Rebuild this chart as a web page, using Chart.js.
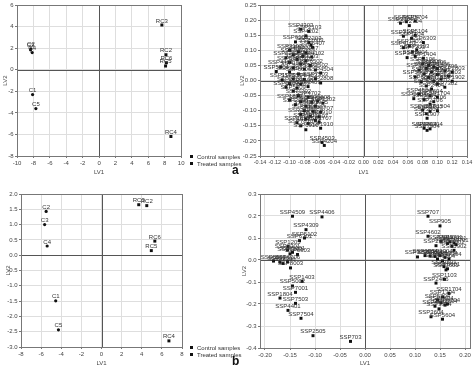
<!DOCTYPE html>
<html>
<head>
<meta charset="utf-8">
<script src="https://cdn.jsdelivr.net/npm/chart.js@4/dist/chart.umd.min.js"></script>
<style>
body { margin: 0; background: #fff; width: 474px; height: 373px; position: relative; overflow: hidden; font-family: "Liberation Sans", Arial, sans-serif; }
canvas { position: absolute; }
.leg { position: absolute; font-size: 6px; color: #333; line-height: 7px; white-space: nowrap; }
.leg i { display: inline-block; width: 3px; height: 3px; background: #111; margin-right: 4px; vertical-align: 1px; }
.tag { position: absolute; font-size: 12px; font-weight: bold; color: #111; }
</style>
</head>
<body>
<canvas id="aLeft" width="186" height="180" style="left:0;top:0"></canvas>
<canvas id="aRight" width="237" height="180" style="left:237px;top:0"></canvas>
<canvas id="bLeft" width="186" height="193" style="left:0;top:180px"></canvas>
<canvas id="bRight" width="237" height="193" style="left:237px;top:180px"></canvas>

<div class="leg" style="left:190px;top:154px"><i></i>Control samples<br><i></i>Treated samples</div>
<div class="leg" style="left:190px;top:345px"><i></i>Control samples<br><i></i>Treated samples</div>
<div class="tag" style="left:232px;top:163px">a</div>
<div class="tag" style="left:232px;top:354px">b</div>

<script>
// ---- panel a, samples ----
const aControl = [[-8.3, 1.95, 'C2'], [-8.35, 1.85, 'C3'], [-8.15, 1.6, 'C4'], [-8.1, -2.3, 'C1'], [-7.7, -3.6, 'C5']];
const aTreated = [[7.65, 4.15, 'RC3'], [8.15, 1.4, 'RC2'], [8.2, 0.65, 'RC6'], [8.1, 0.35, 'RC5'], [8.75, -6.2, 'RC4']];
const aLeftXTicks = [-10, -8, -6, -4, -2, 0, 2, 4, 6, 8, 10];
const aLeftYTicks = [-8, -6, -4, -2, 0, 2, 4, 6];

// ---- panel b, samples ----
const bControl = [[-5.5, 1.43, 'C2'], [-5.65, 1.0, 'C3'], [-5.4, 0.3, 'C4'], [-4.55, -1.49, 'C1'], [-4.28, -2.44, 'C5']];
const bTreated = [[3.7, 1.65, 'RC3'], [4.5, 1.62, 'RC2'], [5.3, 0.46, 'RC6'], [4.95, 0.15, 'RC5'], [6.7, -2.8, 'RC4']];
const bLeftXTicks = [-8, -6, -4, -2, 0, 2, 4, 6, 8];
const bLeftYTicks = [-3, -2.5, -2, -1.5, -1, -0.5, 0, 0.5, 1, 1.5, 2];

// ---- panel a, strains ----
const aStrainsNeg = [
    [-0.085, 0.17, 'SSP4303'], [-0.074, 0.163, 'SSP2103'], [-0.078, 0.148, 'SSP4202'], [-0.092, 0.128, 'SSP6102'],
    [-0.074, 0.126, 'SSP2203'], [-0.071, 0.118, 'SSP1603'], [-0.069, 0.11, 'SSP6407'], [-0.1, 0.1, 'SSP3102'],
    [-0.088, 0.095, 'SSP5302'], [-0.078, 0.092, 'SSP1207'], [-0.095, 0.085, 'SSP7402'], [-0.082, 0.08, 'SSP2502'],
    [-0.07, 0.078, 'SSP4102'], [-0.105, 0.075, 'SSP6202'], [-0.09, 0.07, 'SSP1302'], [-0.078, 0.065, 'SSP3203'],
    [-0.1, 0.06, 'SSP5107'], [-0.085, 0.055, 'SSP2402'], [-0.072, 0.05, 'SSP6502'], [-0.112, 0.045, 'SSP4403'],
    [-0.095, 0.042, 'SSP1502'], [-0.08, 0.038, 'SSP7102'], [-0.065, 0.035, 'SSP3502'], [-0.118, 0.03, 'SSP5204'],
    [-0.1, 0.028, 'SSP2304'], [-0.088, 0.022, 'SSP6604'], [-0.058, 0.025, 'SSP4504'], [-0.11, 0.002, 'SSP1102'],
    [-0.095, 0.005, 'SSP3304'], [-0.08, 0.004, 'SSP5403'], [-0.065, 0.006, 'SSP7503'], [-0.1, -0.01, 'SSP2708'],
    [-0.085, -0.012, 'SSP4608'], [-0.105, -0.022, 'SSP1409'], [-0.09, -0.025, 'SSP6309'], [-0.075, -0.02, 'SSP3409'],
    [-0.095, -0.035, 'SSP5509'], [-0.058, -0.008, 'SSP2808'], [-0.088, -0.05, 'SSP7302'], [-0.075, -0.055, 'SSP4702'],
    [-0.1, -0.065, 'SSP1805'], [-0.085, -0.07, 'SSP6705'], [-0.07, -0.072, 'SSP3808'], [-0.062, -0.068, 'SSP5608'],
    [-0.092, -0.08, 'SSP2908'], [-0.078, -0.085, 'SSP4809'], [-0.065, -0.085, 'SSP1905'], [-0.055, -0.075, 'SSP1302'],
    [-0.08, -0.1, 'SSP6807'], [-0.068, -0.102, 'SSP3907'], [-0.058, -0.105, 'SSP5707'], [-0.085, -0.112, 'SSP2607'],
    [-0.072, -0.118, 'SSP7907'], [-0.06, -0.12, 'SSP4910'], [-0.078, -0.128, 'SSP6910'], [-0.065, -0.132, 'SSP1907'],
    [-0.09, -0.14, 'SSP3810'], [-0.075, -0.142, 'SSP5910'], [-0.06, -0.138, 'SSP2707'], [-0.085, -0.15, 'SSP7810'],
    [-0.078, -0.163, 'SSP6910'], [-0.058, -0.158, 'SSP1910'], [-0.056, -0.205, 'SSP4503'], [-0.053, -0.215, 'SSP4204']
];
const aStrainsPos = [
    [0.05, 0.19, 'SSP3704'], [0.058, 0.195, 'SSP6704'], [0.07, 0.197, 'SSP5704'], [0.062, 0.182, 'SSP2704'],
    [0.054, 0.147, 'SSP7104'], [0.07, 0.15, 'SSP5104'], [0.065, 0.14, 'SSP1104'], [0.081, 0.126, 'SSP6303'],
    [0.054, 0.109, 'SSP4103'], [0.062, 0.115, 'SSP1403'], [0.072, 0.101, 'SSP2103'], [0.066, 0.095, 'SSP7203'],
    [0.059, 0.076, 'SSP3404'], [0.081, 0.074, 'SSP1404'], [0.07, 0.08, 'SSP5404'], [0.08, 0.055, 'SSP2106'],
    [0.088, 0.05, 'SSP4206'], [0.095, 0.045, 'SSP6306'], [0.1, 0.04, 'SSP1406'], [0.085, 0.04, 'SSP3506'],
    [0.075, 0.035, 'SSP5606'], [0.11, 0.032, 'SSP7706'], [0.12, 0.028, 'SSP2803'], [0.092, 0.028, 'SSP4903'],
    [0.082, 0.022, 'SSP6103'], [0.1, 0.02, 'SSP1203'], [0.115, 0.015, 'SSP3303'], [0.07, 0.012, 'SSP5402'],
    [0.088, 0.01, 'SSP7502'], [0.105, 0.005, 'SSP2602'], [0.095, -0.002, 'SSP4702'], [0.078, -0.004, 'SSP6802'],
    [0.12, -0.002, 'SSP1902'], [0.1, -0.012, 'SSP3102'], [0.085, -0.018, 'SSP5202'], [0.11, -0.022, 'SSP7302'],
    [0.092, -0.028, 'SSP2404'], [0.075, -0.045, 'SSP4504'], [0.09, -0.05, 'SSP6604'], [0.1, -0.055, 'SSP1704'],
    [0.068, -0.06, 'SSP3804'], [0.082, -0.063, 'SSP5904'], [0.095, -0.07, 'SSP7106'], [0.09, -0.078, 'SSP2706'],
    [0.08, -0.098, 'SSP4207'], [0.09, -0.102, 'SSP6307'], [0.1, -0.1, 'SSP1504'], [0.085, -0.11, 'SSP3607'],
    [0.086, -0.125, 'SSP1907'], [0.082, -0.158, 'SSP5804'], [0.086, -0.165, 'SSP7904'], [0.09, -0.16, 'SSP6304']
];
const aRightXTicks = [-0.14, -0.12, -0.10, -0.08, -0.06, -0.04, -0.02, 0, 0.02, 0.04, 0.06, 0.08, 0.10, 0.12, 0.14];
const aRightYTicks = [-0.25, -0.20, -0.15, -0.10, -0.05, 0, 0.05, 0.10, 0.15, 0.20, 0.25];

// ---- panel b, strains ----
const bStrains = [
    [-0.145, 0.199, 'SSP4509'], [-0.086, 0.196, 'SSP4406'], [-0.118, 0.138, 'SSP4309'], [-0.121, 0.1, 'SSP5102'],
    [-0.131, 0.088, 'SSP6301'], [-0.154, 0.061, 'SSP1205'], [-0.155, 0.045, 'SSP2301'], [-0.145, 0.035, 'SSP5201'],
    [-0.135, 0.025, 'SSP6303'], [-0.15, 0.028, 'SSP3203'], [-0.183, -0.005, 'SSP5501'], [-0.17, -0.01, 'SSP3201'],
    [-0.164, -0.016, 'SSP2206'], [-0.155, -0.008, 'SSP6206'], [-0.149, -0.036, 'SSP8003'], [-0.126, -0.097, 'SSP1403'],
    [-0.145, -0.118, 'SSP5002'], [-0.139, -0.147, 'SSP7001'], [-0.17, -0.173, 'SSP1804'], [-0.139, -0.197, 'SSP7503'],
    [-0.154, -0.229, 'SSP4401'], [-0.128, -0.265, 'SSP7504'], [-0.104, -0.344, 'SSP2505'], [-0.029, -0.37, 'SSP703'],
    [0.126, 0.199, 'SSP707'], [0.15, 0.155, 'SSP905'], [0.126, 0.108, 'SSP4602'], [0.152, 0.085, 'SSP7012'],
    [0.142, 0.065, 'SSP2002'], [0.17, 0.082, 'SSP1701'], [0.178, 0.078, 'SSP2701'], [0.165, 0.075, 'SSP6701'],
    [0.182, 0.07, 'SSP3701'], [0.174, 0.062, 'SSP4902'], [0.178, 0.044, 'SSP5902'], [0.105, 0.014, 'SSP3205'],
    [0.12, 0.02, 'SSP3204'], [0.13, 0.018, 'SSP1204'], [0.14, 0.016, 'SSP6204'], [0.15, 0.02, 'SSP2304'],
    [0.16, 0.012, 'SSP5304'], [0.168, 0.005, 'SSP7304'], [0.145, 0.004, 'SSP4304'], [0.155, -0.004, 'SSP1604'],
    [0.158, -0.03, 'SSP2601'], [0.165, -0.04, 'SSP6601'], [0.162, -0.045, 'SSP3601'], [0.159, -0.088, 'SSP1103'],
    [0.142, -0.105, 'SSP2406'], [0.168, -0.152, 'SSP1704'], [0.155, -0.168, 'SSP1304'], [0.145, -0.182, 'SSP5204'],
    [0.152, -0.195, 'SSP7604'], [0.16, -0.205, 'SSP2604'], [0.14, -0.21, 'SSP4604'], [0.165, -0.2, 'SSP6604'],
    [0.148, -0.222, 'SSP3304'], [0.132, -0.258, 'SSP3604'], [0.155, -0.269, 'SSP5604']
];
const bRightXTicks = [-0.20, -0.15, -0.10, -0.05, 0, 0.05, 0.10, 0.15, 0.20];
const bRightYTicks = [-0.4, -0.3, -0.2, -0.1, 0, 0.1, 0.2, 0.3];

const FONT = '"Liberation Sans", Arial, sans-serif';
const tickFont = { family: FONT, size: 6 };

// box round the plot + the two zero lines
const framePlugin = {
    id: 'frame',
    beforeDatasetsDraw(chart) {
        const { ctx, chartArea: a, scales } = chart;
        ctx.save();
        ctx.strokeStyle = '#555';
        ctx.lineWidth = 1;
        const x0 = Math.round(scales.x.getPixelForValue(0)) + 0.5;
        const y0 = Math.round(scales.y.getPixelForValue(0)) + 0.5;
        ctx.beginPath();
        ctx.moveTo(x0, a.top); ctx.lineTo(x0, a.bottom);
        ctx.moveTo(a.left, y0); ctx.lineTo(a.right, y0);
        ctx.stroke();
        ctx.strokeStyle = '#777';
        ctx.strokeRect(Math.round(a.left) + 0.5, Math.round(a.top) + 0.5, Math.round(a.right - a.left), Math.round(a.bottom - a.top));
        ctx.restore();
    }
};

// sample / strain names above each point
const namePlugin = {
    id: 'names',
    afterDatasetsDraw(chart) {
        const ctx = chart.ctx;
        ctx.save();
        ctx.font = '6px ' + FONT;
        ctx.fillStyle = '#333';
        ctx.textAlign = 'center';
        ctx.textBaseline = 'alphabetic';
        chart.data.datasets.forEach((ds, i) => {
            chart.getDatasetMeta(i).data.forEach((pt, j) => {
                if (ds.names[j]) ctx.fillText(ds.names[j], pt.x, pt.y - 2.5);
            });
        });
        ctx.restore();
    }
};

function makePanel(id, sets, c) {
    const axis = (min, max, tickList, dec, fit, title, titlePad, size) => ({
        type: 'linear',
        min: min,
        max: max,
        afterBuildTicks: s => { s.ticks = tickList.map(v => ({ value: v })); },
        afterFit: fit,
        ticks: {
            font: { family: FONT, size: size || 6 }, color: '#444', padding: 1.5,
            autoSkip: false, maxRotation: 0, minRotation: 0,
            callback: v => v.toFixed(dec)
        },
        grid: { color: '#dedede', lineWidth: 1, tickLength: 2, tickColor: '#777' },
        border: { display: false },
        title: { display: true, text: title, font: tickFont, color: '#444', padding: titlePad }
    });

    new Chart(document.getElementById(id), {
        type: 'scatter',
        data: {
            datasets: sets.map(s => ({
                data: s.pts.map(p => ({ x: p[0], y: p[1] })),
                names: s.pts.map(p => p[2]),
                pointStyle: s.style,
                pointRadius: s.style === 'rect' ? 2.1 : 1.6,
                backgroundColor: '#111',
                borderColor: '#111',
                borderWidth: 0
            }))
        },
        options: {
            responsive: false,
            animation: false,
            layout: { padding: { top: c.padTop, right: c.padRight, left: 0, bottom: 0 } },
            plugins: { legend: { display: false }, tooltip: { enabled: false } },
            scales: {
                x: axis(c.xMin, c.xMax, c.xTicks, c.xDec, s => { s.height = c.xH; }, 'LV1', { top: 0, bottom: c.xTitlePad }, c.xSize),
                y: axis(c.yMin, c.yMax, c.yTicks, c.yDec, s => { s.width = c.yW; }, 'LV2', { top: c.yTitlePad, bottom: 0 })
            }
        },
        plugins: [framePlugin, namePlugin]
    });
}

makePanel('aLeft', [{ pts: aControl, style: 'circle' }, { pts: aTreated, style: 'rect' }], {
    xMin: -10, xMax: 10, xTicks: aLeftXTicks, xDec: 0,
    yMin: -8, yMax: 6, yTicks: aLeftYTicks, yDec: 0,
    padTop: 3, padRight: 3, yW: 17, xH: 24, xTitlePad: 4, yTitlePad: 1.5
});
makePanel('aRight', [{ pts: aStrainsNeg, style: 'rect' }, { pts: aStrainsPos, style: 'rect' }], {
    xMin: -0.14, xMax: 0.14, xTicks: aRightXTicks, xDec: 2, xSize: 5.5,
    yMin: -0.25, yMax: 0.25, yTicks: aRightYTicks, yDec: 2,
    padTop: 3, padRight: 7, yW: 23, xH: 24, xTitlePad: 4, yTitlePad: 1.5
});
makePanel('bLeft', [{ pts: bControl, style: 'circle' }, { pts: bTreated, style: 'rect' }], {
    xMin: -8, xMax: 8, xTicks: bLeftXTicks, xDec: 0,
    yMin: -3, yMax: 2, yTicks: bLeftYTicks, yDec: 1,
    padTop: 14, padRight: 3, yW: 21, xH: 26, xTitlePad: 6, yTitlePad: 5
});
makePanel('bRight', [{ pts: bStrains, style: 'rect' }], {
    xMin: -0.21, xMax: 0.21, xTicks: bRightXTicks, xDec: 2,
    yMin: -0.4, yMax: 0.3, yTicks: bRightYTicks, yDec: 1,
    padTop: 14, padRight: 2, yW: 23, xH: 25, xTitlePad: 6, yTitlePad: 4
});
</script>
</body>
</html>
